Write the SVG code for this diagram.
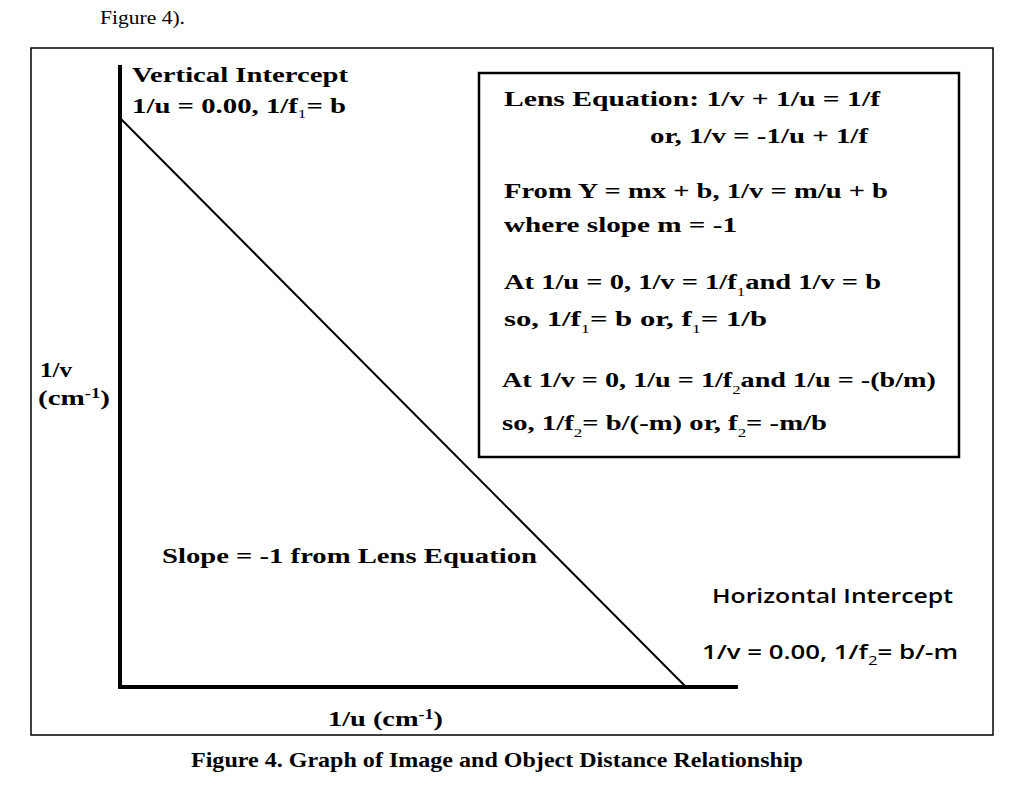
<svg xmlns="http://www.w3.org/2000/svg" width="1024" height="787" viewBox="0 0 1024 787">
<style>
.s{font-family:"Liberation Serif",serif;font-weight:bold;font-size:22px;fill:#000}
.n{font-family:"Open Sans","Liberation Sans",sans-serif;font-weight:600;font-size:20px;fill:#000}
.sub{font-size:13px;font-weight:normal}
</style>
<rect width="1024" height="787" fill="#fff"/>
<text x="100" y="24" font-family="Liberation Serif,serif" font-size="18" textLength="85" lengthAdjust="spacingAndGlyphs">Figure 4).</text>
<rect x="31" y="48" width="962" height="687" fill="none" stroke="#000" stroke-width="1.5"/>
<g id="axes">
<line x1="120" y1="65" x2="120" y2="689" stroke="#000" stroke-width="4"/>
<line x1="118" y1="687" x2="738" y2="687" stroke="#000" stroke-width="4"/>
<line x1="120" y1="118" x2="686" y2="687" stroke="#000" stroke-width="2"/>
</g>
<text class="s" x="132" y="82" textLength="216" lengthAdjust="spacingAndGlyphs">Vertical Intercept</text>
<text class="s" x="132" y="113" textLength="214" lengthAdjust="spacingAndGlyphs">1/u = 0.00, 1/f<tspan class="sub" dy="5">1</tspan><tspan dy="-5">= b</tspan></text>
<text class="s" x="40" y="377" textLength="32" lengthAdjust="spacingAndGlyphs">1/v</text>
<text class="s" x="38" y="405" font-weight="normal" textLength="72" lengthAdjust="spacingAndGlyphs">(cm<tspan font-size="14" dy="-7">-1</tspan><tspan dy="7">)</tspan></text>
<text class="s" x="328" y="726" font-weight="normal" textLength="115" lengthAdjust="spacingAndGlyphs">1/u  (cm<tspan font-size="14" dy="-7">-1</tspan><tspan dy="7">)</tspan></text>
<text class="s" x="162" y="563" textLength="375" lengthAdjust="spacingAndGlyphs">Slope = -1 from Lens Equation</text>
<g id="box">
<rect x="479" y="73" width="480" height="384" fill="#fff" stroke="#000" stroke-width="2.5"/>
<text class="s" x="504" y="106" textLength="376" lengthAdjust="spacingAndGlyphs">Lens Equation: 1/v + 1/u = 1/f</text>
<text class="s" x="650" y="143" textLength="218" lengthAdjust="spacingAndGlyphs">or, 1/v = -1/u + 1/f</text>
<text class="s" x="504" y="198" textLength="384" lengthAdjust="spacingAndGlyphs">From Y = mx + b, 1/v = m/u + b</text>
<text class="s" x="504" y="232" textLength="233" lengthAdjust="spacingAndGlyphs">where slope m = -1</text>
<text class="s" x="504" y="289" textLength="377" lengthAdjust="spacingAndGlyphs">At 1/u = 0, 1/v = 1/f<tspan class="sub" dy="7">1</tspan><tspan dy="-7">and 1/v = b</tspan></text>
<text class="s" x="504" y="326" textLength="263" lengthAdjust="spacingAndGlyphs">so, 1/f<tspan class="sub" dy="7">1</tspan><tspan dy="-7">= b   or, f</tspan><tspan class="sub" dy="7">1</tspan><tspan dy="-7">= 1/b</tspan></text>
<text class="s" x="502" y="387" textLength="434" lengthAdjust="spacingAndGlyphs">At 1/v = 0, 1/u = 1/f<tspan class="sub" dy="7">2</tspan><tspan dy="-7">and 1/u = -(b/m)</tspan></text>
<text class="s" x="502" y="430" textLength="325" lengthAdjust="spacingAndGlyphs">so, 1/f<tspan class="sub" dy="7">2</tspan><tspan dy="-7">= b/(-m)  or, f</tspan><tspan class="sub" dy="7">2</tspan><tspan dy="-7">= -m/b</tspan></text>
</g>
<text class="n" x="712" y="603" textLength="241" lengthAdjust="spacingAndGlyphs">Horizontal Intercept</text>
<text class="n" x="702" y="659" textLength="256" lengthAdjust="spacingAndGlyphs">1/v = 0.00,  1/f<tspan class="sub" dy="6">2</tspan><tspan dy="-6">= b/-m</tspan></text>
<text class="s" x="191" y="767" textLength="612" lengthAdjust="spacingAndGlyphs">Figure 4. Graph of Image and Object Distance Relationship</text>
</svg>
